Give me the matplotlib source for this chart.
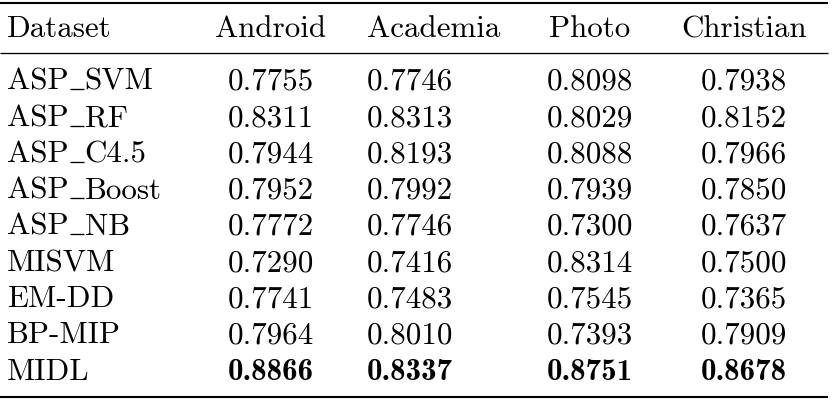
import matplotlib
matplotlib.use("Agg")
import matplotlib.pyplot as plt
from matplotlib.lines import Line2D

# ---- data ----
columns = ["Dataset", "Android", "Academia", "Photo", "Christian"]
methods = ["ASP_SVM", "ASP_RF", "ASP_C4.5", "ASP_Boost", "ASP_NB",
           "MISVM", "EM-DD", "BP-MIP", "MIDL"]
android = [0.7755, 0.8311, 0.7944, 0.7952, 0.7772, 0.7290, 0.7741, 0.7964, 0.8866]
academia = [0.7746, 0.8313, 0.8193, 0.7992, 0.7746, 0.7416, 0.7483, 0.8010, 0.8337]
photo = [0.8098, 0.8029, 0.8088, 0.7939, 0.7300, 0.8314, 0.7545, 0.7393, 0.8751]
christian = [0.7938, 0.8152, 0.7966, 0.7850, 0.7637, 0.7500, 0.7365, 0.7909, 0.8678]

W, H = 832, 401
FS = 22.3
EM = FS * 100 / 72.0

fig = plt.figure(figsize=(W / 100, H / 100), dpi=100)
fig.patch.set_facecolor("white")
renderer = fig.canvas.get_renderer()


def fx(px):
    return px / W


def fy(py):
    return 1 - py / H


def put(text, x, y, ha="left", bold=False):
    return fig.text(fx(x), fy(y), text, ha=ha, va="baseline",
                    family="cmb10" if bold else "cmr10", fontsize=FS,
                    color="black")


def put_name(name, x, y):
    parts = name.split("_")
    cur = x
    for i, p in enumerate(parts):
        t = put(p, cur, y)
        bb = t.get_window_extent(renderer)
        cur = cur + bb.width + 0.02 * EM
        if i < len(parts) - 1:
            x0 = cur + 0.02 * EM
            x1 = cur + 0.48 * EM
            fig.add_artist(Line2D([fx(x0), fx(x1)], [fy(y - 0.6), fy(y - 0.6)],
                                  transform=fig.transFigure, color="black",
                                  lw=0.95, solid_capstyle="butt"))
            cur = cur + 0.5 * EM


def hrule(py, lw):
    fig.add_artist(Line2D([fx(0), fx(828)], [fy(py), fy(py)],
                          transform=fig.transFigure, color="black", lw=lw,
                          solid_capstyle="butt"))


# column layout: (x position, alignment)
col_layout = [(7, "left"), (271, "center"), (367, "left"), (590, "center"), (744, "center")]

header_y = 37
row0_y = 90
row_step = 36.2

for (x, ha), name in zip(col_layout, columns):
    put(name, x, header_y, ha=ha)

series = [android, academia, photo, christian]
for i, m in enumerate(methods):
    y = row0_y + i * row_step
    put_name(m, col_layout[0][0], y)
    for (x, ha), vals in zip(col_layout[1:], series):
        v = vals[i]
        put(f"{v:.4f}", x, y, ha=ha, bold=(v == max(vals)))

hrule(3.0, 1.5)
hrule(53.0, 0.95)
hrule(396.5, 1.5)

fig.savefig("out.png", dpi=100, facecolor="white")
